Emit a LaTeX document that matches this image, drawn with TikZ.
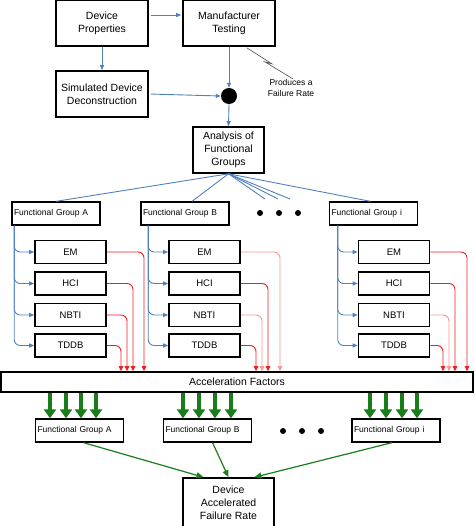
\documentclass[tikz,border=0pt]{standalone}
\usepackage{fontspec}
\setmainfont{Liberation Sans}
\usetikzlibrary{arrows.meta,calc}
\definecolor{cblue}{RGB}{79,129,189}
\definecolor{cred}{RGB}{240,30,30}
\definecolor{cpink}{RGB}{250,150,150}
\definecolor{cgreen}{RGB}{25,125,25}
\begin{document}
\begin{tikzpicture}[x=1pt,y=-1pt,
  mainbox/.style={draw,line width=1.6pt,fill=white,align=center,inner sep=0pt,
    minimum width=92pt,minimum height=46pt,font=\fontsize{10.5}{13}\selectfont},
  fgbox/.style={draw,line width=1.3pt,fill=white,inner xsep=2pt,inner ysep=0pt,
    text width=84pt,align=left,minimum height=23pt,font=\fontsize{8.5}{10}\selectfont},
  subbox/.style={draw,line width=1.6pt,fill=white,inner sep=0pt,
    minimum width=71pt,minimum height=23pt,font=\fontsize{9.5}{11}\selectfont},
  bluearrow/.style={cblue,line width=0.9pt,rounded corners=6pt,-{Triangle[length=5pt,width=4pt]}},
  blueline/.style={cblue,line width=0.9pt},
  redarrow/.style={cred,line width=0.9pt,rounded corners=6pt,-{Triangle[length=5pt,width=4.5pt]}},
  gthick/.style={cgreen,line width=4pt,-{Triangle[length=9pt,width=12pt]}},
  gthin/.style={cgreen,line width=1.2pt,-{Triangle[length=7pt,width=6pt]}},
  bdot/.style={circle,fill=black,inner sep=0pt,minimum size=6pt}]
\useasboundingbox (0,0) rectangle (474,526);
\clip (0,0) rectangle (474,526);

% top part
\node[mainbox] (dp) at (102,23) {Device\\Properties};
\node[mainbox] (mt) at (229,23) {Manufacturer\\Testing};
\node[mainbox] (sdd) at (102,94) {Simulated Device\\Deconstruction};
\node[circle,fill=black,inner sep=0pt,minimum size=16pt] (jn) at (229,96) {};
\node[mainbox,minimum width=71pt] (ana) at (228.5,150) {Analysis of\\Functional\\Groups};

\draw[bluearrow,shorten <=2pt] ([yshift=8pt]dp.east) -- ([yshift=8pt,xshift=-1pt]mt.west);
\draw[bluearrow] (dp.south) -- (sdd.north);
\draw[bluearrow] (mt.south) -- (jn.north);
\draw[bluearrow,shorten <=2pt] (sdd.east) -- (jn.west);
\draw[bluearrow] (jn.south) -- (ana.north);

% failure-rate callout
\draw[line width=0.6pt,black!70] ([xshift=-29pt,yshift=-1pt]mt.south east) -- ++(25,16) -- ++(-7,-2) -- ++(28,17) coordinate (lt);
\node[font=\fontsize{8.5}{10.5}\selectfont,align=center] (pfr) at (291,88) {Produces a\\Failure Rate};

% functional groups (upper row)
\node[fgbox] (fgA) at (56,213.5) {Functional Group A};
\node[fgbox] (fgB) at (185,213.5) {Functional Group B};
\node[fgbox] (fgI) at (373.5,213.5) {Functional Group i};
\node[bdot] (ud1) at (260,213) {};
\node[bdot] (ud2) at (279,213) {};
\node[bdot] (ud3) at (298,213) {};

\coordinate (e1) at (265,199);
\coordinate (e2) at (278,199);
\coordinate (e3) at (290,199);
\draw[blueline] (ana.south) -- (fgA.north);
\draw[blueline] (ana.south) -- ([xshift=7pt]fgB.north);
\draw[blueline] (ana.south) -- (e1);
\draw[blueline] (ana.south) -- (e2);
\draw[blueline] (ana.south) -- (e3);
\draw[blueline] (ana.south) -- ([xshift=-3pt]fgI.north);

% sub-boxes
\foreach \g/\x in {A/70.5,B/204.5,I/394}{
  \node[subbox] (em\g) at (\x,252) {EM};
  \node[subbox] (hci\g) at (\x,283.5) {HCI};
  \node[subbox] (nbti\g) at (\x,315) {NBTI};
  \node[subbox] (tddb\g) at (\x,345.5) {TDDB};
  \coordinate (bl\g) at ([xshift=-20pt]em\g.west);
  \foreach \s in {em,hci,nbti,tddb}{
    \draw[bluearrow] (fg\g.south -| bl\g) |- (\s\g.west);
  }
}

% acceleration factors bar
\node[draw,line width=1.6pt,fill=white,minimum width=472pt,minimum height=20pt,inner sep=0pt,
  font=\fontsize{10.5}{12}\selectfont] (bar) at (237,382) {Acceleration Factors};

% red connectors
\foreach \g/\a/\ca/\b/\cb/\c/\cc/\d/\cd in {A/144/cred/133/cred/127/cred/121/cred,
    B/280/cpink/268/cred/262/cpink/256/cred, I/467/cred/455/cred/449/cpink/443/cred}{
  \coordinate (ra\g) at (\a,0);
  \coordinate (rb\g) at (\b,0);
  \coordinate (rc\g) at (\c,0);
  \coordinate (rd\g) at (\d,0);
  \draw[redarrow,\ca] (em\g.east) -| (bar.north -| ra\g);
  \draw[redarrow,\cb] (hci\g.east) -| (bar.north -| rb\g);
  \draw[redarrow,\cc] (nbti\g.east) -| (bar.north -| rc\g);
  \draw[redarrow,\cd] (tddb\g.east) -| (bar.north -| rd\g);
}

% functional groups (lower row)
\node[fgbox] (lA) at (79.5,430.5) {Functional Group A};
\node[fgbox] (lB) at (207.5,430.5) {Functional Group B};
\node[fgbox] (lI) at (396,430.5) {Functional Group i};
\node[bdot] (ld1) at (283,431) {};
\node[bdot] (ld2) at (302,431) {};
\node[bdot] (ld3) at (321,431) {};

% green thick arrows
\foreach \g/\xa/\xb/\xc/\xd in {A/50/66/81/96,B/183/199/215/231,I/370/386/402/417}{
  \foreach \xx in {\xa,\xb,\xc,\xd}{
    \coordinate (gt) at (\xx,0);
    \draw[gthick] (bar.south -| gt) -- (l\g.north -| gt);
  }
}

% final box
\node[mainbox,minimum width=91pt,minimum height=50pt] (dafr) at (228.5,503) {Device\\Accelerated\\Failure Rate};
\draw[gthin] ([xshift=4pt]lA.south) -- ([xshift=-25pt]dafr.north);
\draw[gthin] ([xshift=5pt]lB.south) -- (dafr.north);
\draw[gthin] ([xshift=-4pt]lI.south) -- ([xshift=26pt]dafr.north);
\end{tikzpicture}
\end{document}
